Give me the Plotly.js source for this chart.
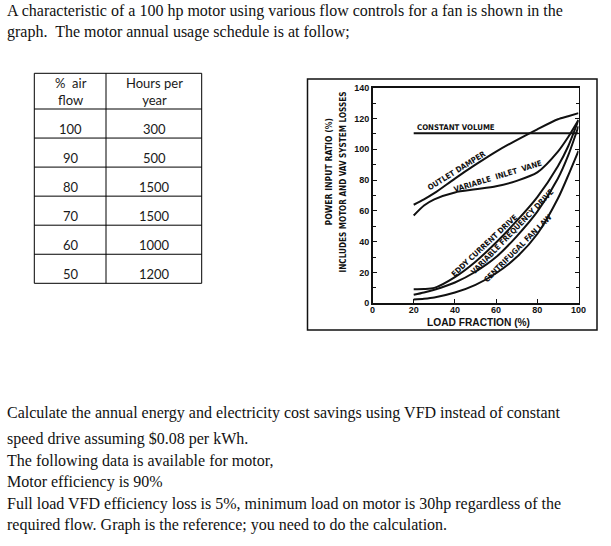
<!DOCTYPE html>
<html>
<head>
<meta charset="utf-8">
<script src="https://cdn.plot.ly/plotly-3.0.1.min.js"></script>
<style>html,body{margin:0;padding:0;background:#fff;}#chart{width:611px;height:546px;}</style>
</head>
<body>
<div id="chart"></div>
<script>
// ---- Table data ----
const airFlowPct = [100, 90, 80, 70, 60, 50];
const hoursPerYear = [300, 500, 1500, 1500, 1000, 1200];
const tableHeader = ['% &nbsp;air<br>flow', 'Hours per<br>year'];

// ---- Chart data (load fraction %, power input ratio %) ----
const loadFraction = [20, 25, 30, 40, 50, 60, 70, 80, 90, 95, 100];
const constantVolumeX = [20, 100];
const constantVolume = [110.5, 110.5];
const outletDamper = [64, 67.5, 71.5, 81, 90, 98.5, 106, 113, 119.5, 121.5, 123.5];
const inletVane = [57, 63.5, 67.5, 72, 74, 76, 79.5, 85, 98.5, 108, 119];
const eddyCurrent = [9.2, 9.3, 10, 17, 27, 39.5, 53.5, 69, 89, 102, 119];
const vfd = [5.5, 7, 8.8, 13.5, 20.5, 30, 43.5, 59.5, 81, 96, 115];
const fanLaw = [2.5, 3, 3.8, 7, 12, 19.5, 30, 45, 68, 83, 99];

const xTicks = [0, 20, 40, 60, 80, 100];
const yTicks = [0, 20, 40, 60, 80, 100, 120, 140];

const W = 611, H = 546;
const px = v => v / W;
const py = v => 1 - v / H;

function curve(x, y, name) {
  return {type: 'scatter', mode: 'lines', x: x, y: y, name: name,
    line: {shape: 'spline', smoothing: 0.7, color: '#111', width: 2},
    xaxis: 'x', yaxis: 'y', hoverinfo: 'skip', showlegend: false};
}

const traces = [
  curve(constantVolumeX, constantVolume, 'CONSTANT VOLUME'),
  curve(loadFraction, outletDamper, 'OUTLET DAMPER'),
  curve(loadFraction, inletVane, 'VARIABLE INLET VANE'),
  curve(loadFraction, eddyCurrent, 'EDDY CURRENT DRIVE'),
  curve(loadFraction, vfd, 'VARIABLE FREQUENCY DRIVE'),
  curve(loadFraction, fanLaw, 'CENTRIFUGAL FAN LAW')
];

const serif = 'Liberation Serif, Times New Roman, serif';
const narrow = 'Liberation Sans Narrow, DejaVu Sans Condensed, Liberation Sans, sans-serif';
const tableFontFamily = 'Lato, Open Sans, sans-serif';

function txt(text, xPix, yPix) {
  return {text: text, x: px(xPix), y: py(yPix), xref: 'paper', yref: 'paper',
    xanchor: 'left', yanchor: 'middle', showarrow: false,
    font: {family: serif, size: 16, color: '#111'}};
}
function label(text, x, y, angle, size) {
  return {text: '<b>' + text + '</b>', x: x, y: y, xref: 'x', yref: 'y', textangle: angle,
    showarrow: false, xanchor: 'center', yanchor: 'middle',
    font: {family: narrow, size: size || 7.8, color: '#111'}};
}

// ---- Table geometry (pixels) ----
const tblLeft = 34.3, tblMid = 106, tblRight = 201.7;
const tblTop = 73.3, headerBottom = 109, rowH = 29.05;
const colCenters = [70.8, 154];
const tableShapes = [];
const tableAnn = [];
const nRows = airFlowPct.length;
const tblBottom = headerBottom + nRows * rowH;
tableShapes.push({type: 'rect', xref: 'paper', yref: 'paper', x0: px(tblLeft), x1: px(tblRight),
  y0: py(tblBottom), y1: py(tblTop), line: {color: '#000', width: 1}});
tableShapes.push({type: 'line', xref: 'paper', yref: 'paper', x0: px(tblMid), x1: px(tblMid),
  y0: py(tblBottom), y1: py(tblTop), line: {color: '#000', width: 1}});
for (let i = 0; i < nRows; i++) {
  const yb = headerBottom + i * rowH;
  tableShapes.push({type: 'line', xref: 'paper', yref: 'paper', x0: px(tblLeft), x1: px(tblRight),
    y0: py(yb), y1: py(yb), line: {color: '#000', width: 1}});
}
function cellText(text, col, yPix) {
  return {text: String(text), x: px(colCenters[col]), y: py(yPix), xref: 'paper', yref: 'paper',
    xanchor: 'center', yanchor: 'middle', showarrow: false,
    font: {family: tableFontFamily, size: 13, color: '#1a1a1a'}};
}
tableHeader.forEach((h, c) => tableAnn.push(cellText(h, c, 91.5)));
airFlowPct.forEach((v, i) => tableAnn.push(cellText(v, 0, headerBottom + i * rowH + 20)));
hoursPerYear.forEach((v, i) => tableAnn.push(cellText(v, 1, headerBottom + i * rowH + 20)));

const annotations = [
  txt('A characteristic of a 100 hp motor using various flow controls for a fan is shown in the', 5, 10.5),
  txt('graph.&nbsp; The motor annual usage schedule is at follow;', 5, 32),
  txt('Calculate the annual energy and electricity cost savings using VFD instead of constant', 5, 413),
  txt('speed drive assuming $0.08 per kWh.', 5, 439),
  txt('The following data is available for motor,', 5, 461),
  txt('Motor efficiency is 90%', 5, 482),
  txt('Full load VFD efficiency loss is 5%, minimum load on motor is 30hp regardless of the', 5, 504),
  txt('required flow. Graph is the reference; you need to do the calculation.', 5, 525),
  // axis titles
  {text: '<b>POWER INPUT RATIO (%)</b>', x: px(328.5), y: py(172), xref: 'paper', yref: 'paper',
   textangle: -90, showarrow: false, xanchor: 'center', yanchor: 'middle',
   font: {family: narrow, size: 8.6, color: '#111'}},
  {text: '<b>INCLUDES MOTOR AND VAV SYSTEM LOSSES</b>', x: px(342.5), y: py(182), xref: 'paper', yref: 'paper',
   textangle: -90, showarrow: false, xanchor: 'center', yanchor: 'middle',
   font: {family: narrow, size: 8.1, color: '#111'}},
  {text: '<b>LOAD FRACTION (%)</b>', x: px(478), y: py(322), xref: 'paper', yref: 'paper',
   showarrow: false, xanchor: 'center', yanchor: 'middle',
   font: {family: 'Liberation Sans, Arial, sans-serif', size: 10.2, color: '#111'}},
  // curve labels
  label('CONSTANT VOLUME', 40.3, 114, 0, 7.8),
  label('OUTLET DAMPER', 41, 86.5, -32),
  label('VARIABLE &nbsp;INLET &nbsp;VANE', 60.8, 82.5, -17),
  label('EDDY CURRENT DRIVE', 54.5, 37.5, -43),
  label('VARIABLE FREQUENCY DRIVE', 68.2, 46.5, -46),
  label('CENTRIFUGAL FAN LAW', 70.6, 35.5, -45)
].concat(tableAnn);

const axisFont = {family: 'Liberation Sans, Arial, sans-serif', size: 9, color: '#111', weight: 'bold'};

const layout = {
  width: W, height: H,
  margin: {l: 0, r: 0, t: 0, b: 0, pad: 0},
  paper_bgcolor: '#fff', plot_bgcolor: '#fff',
  showlegend: false,
  xaxis: {domain: [px(372.5), px(578.5)], range: [0, 100], tickvals: xTicks,
    ticks: 'inside', ticklen: 4, tickwidth: 1, tickcolor: '#111', ticklabelstandoff: -3,
    showline: true, linecolor: '#111', linewidth: 1.5, mirror: true,
    showgrid: false, zeroline: false, tickfont: axisFont, fixedrange: true},
  yaxis: {domain: [py(303.3), py(87.7)], range: [0, 140], tickvals: yTicks,
    ticks: 'inside', ticklen: 4, tickwidth: 1, tickcolor: '#111',
    minor: {dtick: 10, ticks: 'inside', ticklen: 3, tickcolor: '#111'},
    showline: true, linecolor: '#111', linewidth: 1.5, mirror: 'allticks',
    showgrid: false, zeroline: false, tickfont: axisFont, fixedrange: true},
  shapes: [
    {type: 'rect', xref: 'paper', yref: 'paper', x0: px(307.5), x1: px(597), y0: py(330), y1: py(79),
     line: {color: '#111', width: 1.5}}
  ].concat(tableShapes),
  annotations: annotations
};

Plotly.newPlot('chart', traces, layout, {staticPlot: true, displayModeBar: false});
</script>
</body>
</html>
